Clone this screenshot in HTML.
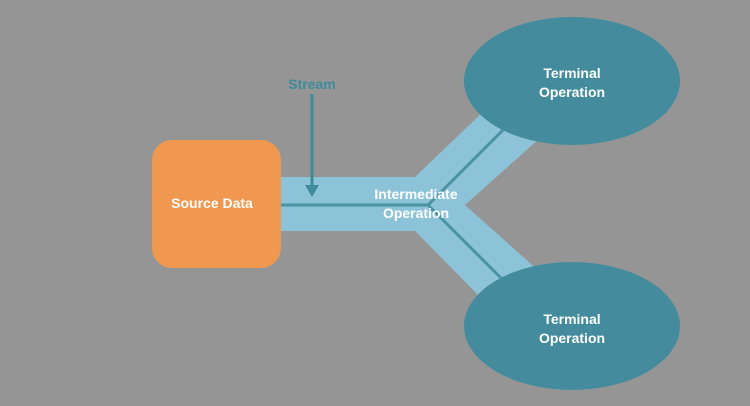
<!DOCTYPE html>
<html><head><meta charset="utf-8"><style>
html,body{margin:0;padding:0;background:#959595;}
svg{display:block}
text{font-family:"Liberation Sans",sans-serif;font-weight:bold;fill:#fff;}
</style></head><body>
<svg width="750" height="406" viewBox="0 0 750 406">
<rect width="750" height="406" fill="#959595"/>
<polygon points="270,177 415,177 485,110 540,138 465,205 540,272 485,302 415,231 270,231" fill="#8cc3d8"/>
<polyline points="275,205 428,205 505,128" fill="none" stroke="#4a93a3" stroke-width="3"/>
<polyline points="428,205 505,282" fill="none" stroke="#4a93a3" stroke-width="3"/>
<rect x="152" y="140" width="129" height="128" rx="20" fill="#f0984f"/>
<text x="212" y="208" font-size="14" text-anchor="middle">Source Data</text>
<ellipse cx="572" cy="81" rx="108" ry="64" fill="#448c9d"/>
<ellipse cx="572" cy="326" rx="108" ry="64" fill="#448c9d"/>
<text x="572" y="78" font-size="14" text-anchor="middle">Terminal</text>
<text x="572" y="97" font-size="14" text-anchor="middle">Operation</text>
<text x="572" y="324" font-size="14" text-anchor="middle">Terminal</text>
<text x="572" y="343" font-size="14" text-anchor="middle">Operation</text>
<text x="416" y="199" font-size="14" text-anchor="middle">Intermediate</text>
<text x="416" y="218" font-size="14" text-anchor="middle">Operation</text>
<text x="312" y="89" font-size="14" text-anchor="middle" style="fill:#3f8a9b">Stream</text>
<line x1="312" y1="94" x2="312" y2="186" stroke="#3f8a9b" stroke-width="3"/>
<polygon points="305,185 319,185 312,197" fill="#3f8a9b"/>
</svg>
</body></html>
